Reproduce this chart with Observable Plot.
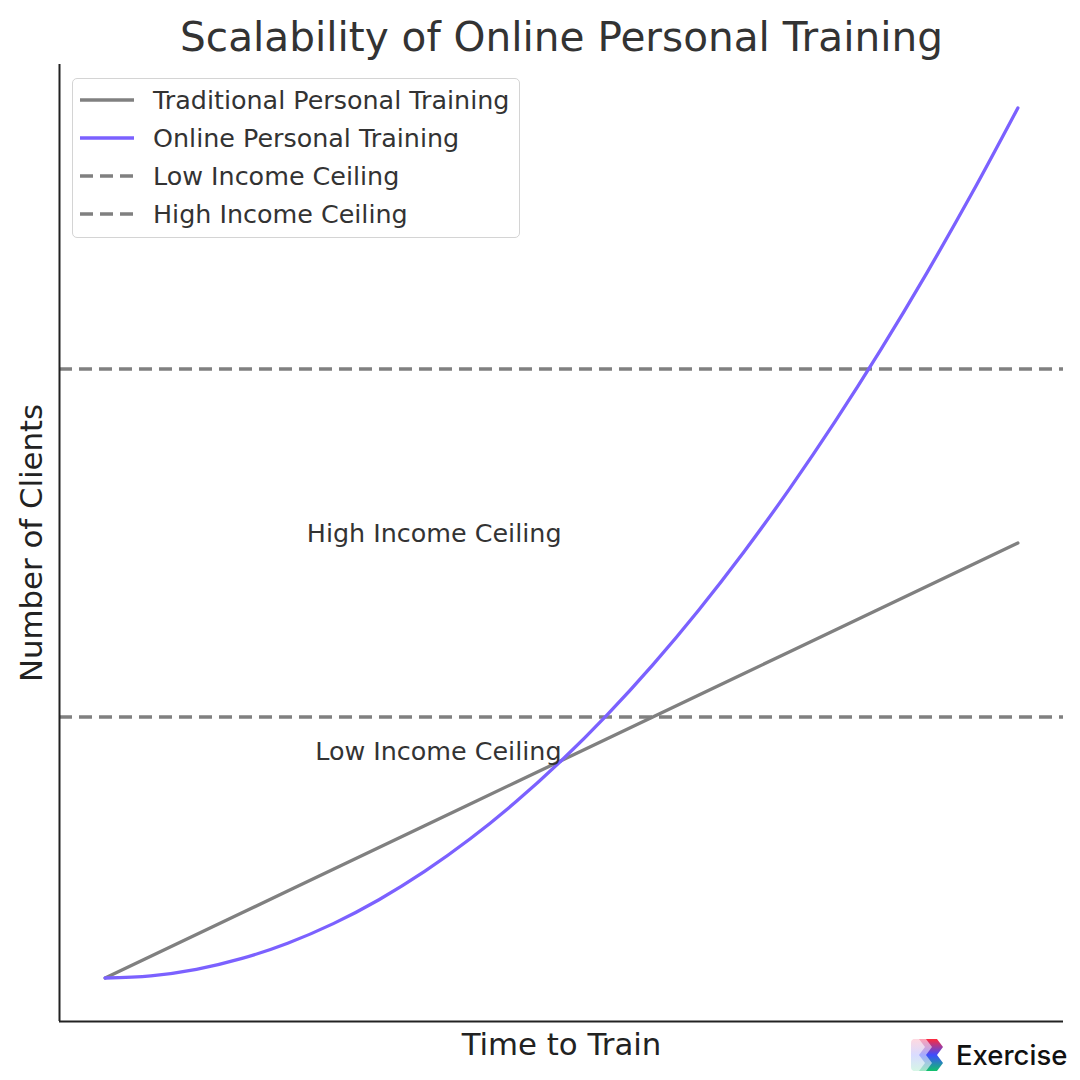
<!DOCTYPE html>
<html>
<head>
<meta charset="utf-8">
<script src="https://cdn.jsdelivr.net/npm/d3@7"></script>
<script src="https://cdn.jsdelivr.net/npm/@observablehq/plot@0.6"></script>
<style>
  html, body { margin: 0; padding: 0; background: #fff; }
  #wrap { position: relative; width: 1080px; height: 1080px; font-family: "DejaVu Sans", sans-serif; }
  #legend { position: absolute; left: 72px; top: 78px; width: 448px; height: 160px; border: 1.5px solid #d4d4d4; border-radius: 5px; background: #fff; box-sizing: border-box; }
  .row { position: absolute; left: 0; height: 38px; display: flex; align-items: center; }
  .row svg { margin-left: 7px; }
  .row span { margin-left: 19px; font-size: 25.4px; color: #333; white-space: nowrap; }
  #logo { position: absolute; left: 911px; top: 1038px; display: flex; align-items: center; }
  #logo span { font-family: "Inter", sans-serif; font-weight: 500; font-size: 27.5px; color: #111; margin-left: 12px; }
</style>
</head>
<body>
<div id="wrap"></div>
<script>
// ---- data ----
const timeToTrain = [0, 0.5, 1, 1.5, 2, 2.5, 3, 3.5, 4, 4.5, 5, 5.5, 6, 6.5, 7, 7.5, 8, 8.5, 9, 9.5, 10];
const traditionalClients = [0, 0.5, 1, 1.5, 2, 2.5, 3, 3.5, 4, 4.5, 5, 5.5, 6, 6.5, 7, 7.5, 8, 8.5, 9, 9.5, 10];
const onlineClients = [0, 0.05, 0.2, 0.45, 0.8, 1.25, 1.8, 2.45, 3.2, 4.05, 5, 6.05, 7.2, 8.45, 9.8, 11.25, 12.8, 14.45, 16.2, 18.05, 20];
const ceilingNames = ["Low Income Ceiling", "High Income Ceiling"];
const ceilingValues = [6, 14];
const annotationText = ["High Income Ceiling", "Low Income Ceiling"];
const annotationX = [5, 5];
const annotationY = [10, 5];
const seriesNames = ["Traditional Personal Training", "Online Personal Training"];
const titleText = "Scalability of Online Personal Training";
const xLabel = "Time to Train";
const yLabel = "Number of Clients";

const gray = "#808080";
const purple = "#7b61ff";
const dash = "13,7";
const lw = 3.3;

const trad = timeToTrain.map((t, i) => ({x: t, y: traditionalClients[i]}));
const online = timeToTrain.map((t, i) => ({x: t, y: onlineClients[i]}));
const ceilings = ceilingNames.map((n, i) => ({name: n, y: ceilingValues[i]}));
const annotations = annotationText.map((t, i) => ({text: t, x: annotationX[i], y: annotationY[i]}));

const chart = Plot.plot({
  width: 1080,
  height: 1080,
  marginLeft: 59,
  marginRight: 17,
  marginTop: 64,
  marginBottom: 59,
  style: {fontFamily: "DejaVu Sans, sans-serif", background: "#fff"},
  x: {domain: [-0.5, 10.5], axis: null},
  y: {domain: [-1, 21], axis: null},
  marks: [
    Plot.ruleY(ceilings, {y: "y", stroke: gray, strokeWidth: lw, strokeDasharray: dash}),
    Plot.line(trad, {x: "x", y: "y", stroke: gray, strokeWidth: lw}),
    Plot.line(online, {x: "x", y: "y", stroke: purple, strokeWidth: lw, curve: "monotone-x"}),
    Plot.text(annotations, {x: "x", y: "y", text: "text", textAnchor: "end", lineAnchor: "middle", dy: -9, fontSize: 25.4, fill: "#333"}),
    Plot.ruleX([-0.5], {stroke: "#222", strokeWidth: 2}),
    Plot.ruleY([-1], {stroke: "#222", strokeWidth: 2}),
    Plot.text([titleText], {frameAnchor: "top", lineAnchor: "middle", textAnchor: "middle", dy: -27, fontSize: 40.6, fill: "#333"}),
    Plot.text([xLabel], {frameAnchor: "bottom", lineAnchor: "middle", textAnchor: "middle", dy: 24, fontSize: 30.8, fill: "#222"}),
    Plot.text([yLabel], {frameAnchor: "left", lineAnchor: "middle", textAnchor: "middle", dx: -27, rotate: -90, fontSize: 30.8, fill: "#222"})
  ]
});

const wrap = document.getElementById("wrap");
wrap.appendChild(chart);

// legend
const legend = document.createElement("div");
legend.id = "legend";
const entries = [
  {name: seriesNames[0], color: gray, dash: null},
  {name: seriesNames[1], color: purple, dash: null},
  {name: ceilingNames[0], color: gray, dash: dash},
  {name: ceilingNames[1], color: gray, dash: dash}
];
entries.forEach((e, i) => {
  const row = document.createElement("div");
  row.className = "row";
  row.style.top = (2 + i * 38) + "px";
  row.innerHTML = `<svg width="54" height="10"><line x1="0" x2="54" y1="5" y2="5" stroke="${e.color}" stroke-width="${lw}" ${e.dash ? `stroke-dasharray="${e.dash}"` : ""}/></svg><span>${e.name}</span>`;
  legend.appendChild(row);
});
wrap.appendChild(legend);

// logo
const zig = (o) => `M${o} 0 L${o + 11} 0 L${o + 17} 8 L${o + 11} 16 L${o + 17} 24 L${o + 11} 32 L${o} 32 L${o + 6} 24 L${o} 16 L${o + 6} 8 Z`;
const logo = document.createElement("div");
logo.id = "logo";
logo.innerHTML = `<svg width="33" height="32" viewBox="0 0 33 32">
  <defs>
    <linearGradient id="lg1" x1="0" y1="0" x2="0" y2="1">
      <stop offset="0" stop-color="#ff2a3c"/><stop offset="0.5" stop-color="#3d4cff"/><stop offset="1" stop-color="#10c26a"/>
    </linearGradient>
    <linearGradient id="lg2" x1="0" y1="0" x2="0" y2="1">
      <stop offset="0" stop-color="#ffa3b5"/><stop offset="0.5" stop-color="#a4abff"/><stop offset="1" stop-color="#9fe8c3"/>
    </linearGradient>
    <linearGradient id="lg3" x1="0" y1="0" x2="0" y2="1">
      <stop offset="0" stop-color="#ffd9e0"/><stop offset="0.5" stop-color="#d9dcff"/><stop offset="1" stop-color="#d6f6e6"/>
    </linearGradient>
  </defs>
  <rect x="0" y="0" width="14" height="32" rx="4" fill="url(#lg3)"/>
  <path d="${zig(2)}" fill="url(#lg3)"/>
  <path d="${zig(8)}" fill="url(#lg2)"/>
  <path d="${zig(15)}" fill="url(#lg1)"/>
</svg><span>Exercise</span>`;
wrap.appendChild(logo);
</script>
</body>
</html>
